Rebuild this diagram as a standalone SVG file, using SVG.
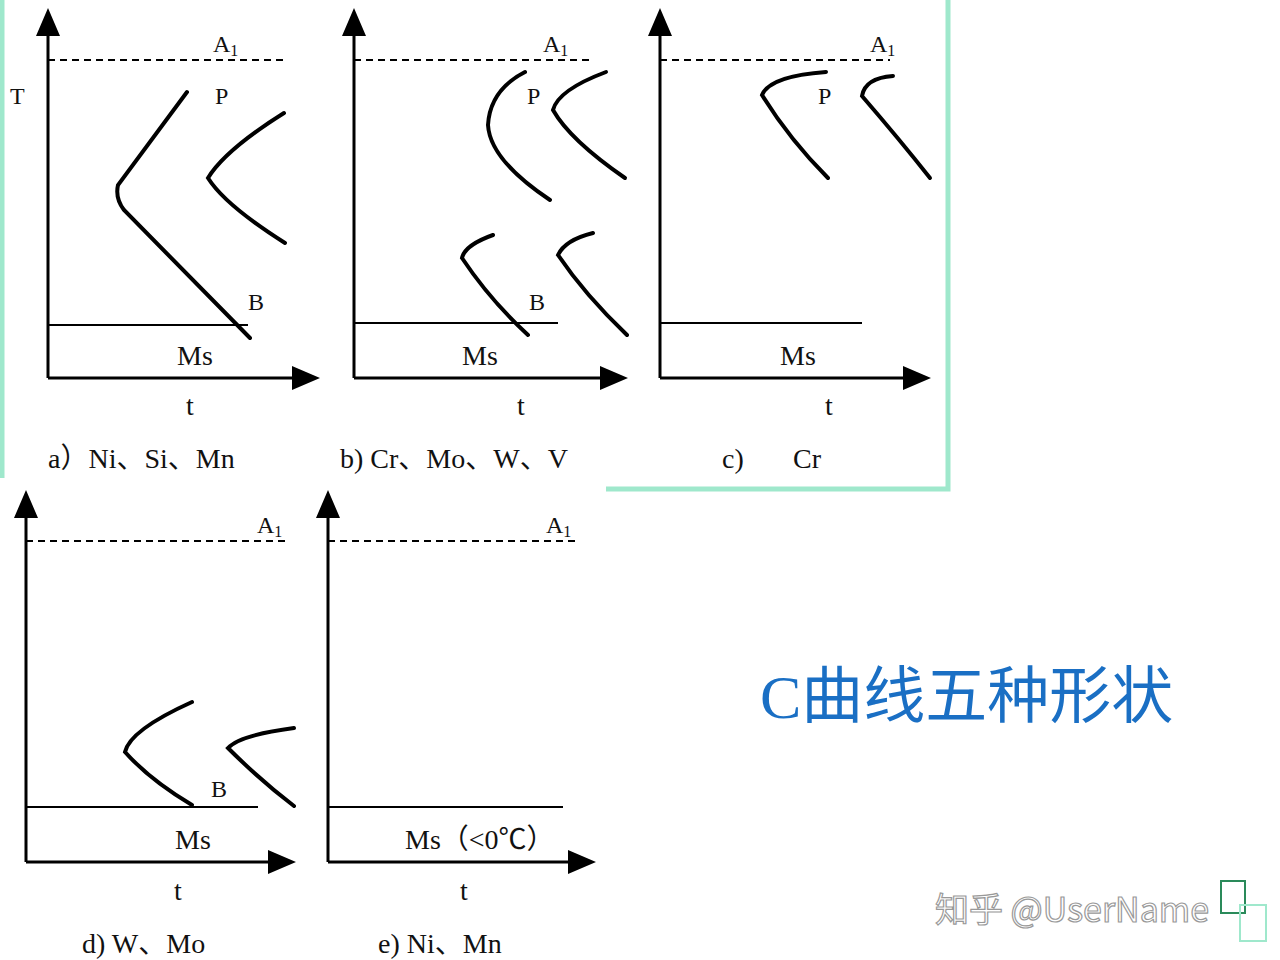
<svg xmlns="http://www.w3.org/2000/svg" width="1280" height="960" viewBox="0 0 1280 960">
<style>
.ax{stroke:#000;stroke-width:3;fill:none}
.cv{stroke:#000;stroke-width:4;fill:none;stroke-linecap:round}
.ms{stroke:#000;stroke-width:2;fill:none}
.da{stroke:#000;stroke-width:2;stroke-dasharray:7 5;fill:none}
.t{font-family:"Liberation Serif","Noto Sans CJK SC",serif;font-size:28px;fill:#111}
.a{font-family:"Liberation Serif",serif;font-size:24px;fill:#111}
.sub{font-size:16px}
</style>
<rect width="1280" height="960" fill="#fff"/>
<path d="M2,0V478M606,489H948V0" stroke="#9fe8cc" stroke-width="5" fill="none"/>
<g id="panel-a">
<path class="ax" d="M48,378V30M48,378H295"/>
<path d="M36,36L48,8L60,36z M292,366L320,378L292,390z" fill="#000"/>
<path class="da" d="M48,60H288"/>
<text class="a" x="213" y="52">A<tspan class="sub" dy="4">1</tspan></text>
<text class="a" x="10" y="104">T</text>
<text class="a" x="215" y="104">P</text>
<path class="cv" d="M187,92L118,185Q115,198 124,210L250,338"/>
<path class="cv" d="M284,113Q225,150 208,178Q225,205 285,243"/>
<path class="ms" d="M48,325H248"/>
<text class="a" x="248" y="310">B</text>
<text class="t" x="177" y="365">Ms</text>
<text class="t" x="186" y="415">t</text>
<text class="t" x="48" y="468">a）Ni、Si、Mn</text>
</g>
<g id="panel-b">
<path class="ax" d="M354,378V30M354,378H600"/>
<path d="M342,36L354,8L366,36z M600,366L628,378L600,390z" fill="#000"/>
<path class="da" d="M354,60H592"/>
<text class="a" x="543" y="52">A<tspan class="sub" dy="4">1</tspan></text>
<text class="a" x="527" y="104">P</text>
<path class="cv" d="M525,72Q490,90 488,125Q490,160 550,200"/>
<path class="cv" d="M606,72Q558,90 553,110Q570,140 625,178"/>
<path class="cv" d="M493,235Q465,245 462,258Q490,300 528,335"/>
<path class="cv" d="M593,233Q565,240 558,255Q585,295 627,335"/>
<path class="ms" d="M354,323H558"/>
<text class="a" x="529" y="310">B</text>
<text class="t" x="462" y="365">Ms</text>
<text class="t" x="517" y="415">t</text>
<text class="t" x="340" y="468">b) Cr、Mo、W、V</text>
</g>
<g id="panel-c">
<path class="ax" d="M660,378V30M660,378H905"/>
<path d="M648,36L660,8L672,36z M903,366L931,378L903,390z" fill="#000"/>
<path class="da" d="M660,60H890"/>
<text class="a" x="870" y="52">A<tspan class="sub" dy="4">1</tspan></text>
<text class="a" x="818" y="104">P</text>
<path class="cv" d="M826,72Q770,76 762,95Q790,140 828,178"/>
<path class="cv" d="M893,76Q865,78 862,96Q900,140 930,178"/>
<path class="ms" d="M660,323H862"/>
<text class="t" x="780" y="365">Ms</text>
<text class="t" x="825" y="415">t</text>
<text class="t" x="722" y="468">c)</text>
<text class="t" x="793" y="468">Cr</text>
</g>
<g id="panel-d">
<path class="ax" d="M26,862V515M26,862H270"/>
<path d="M14,518L26,490L38,518z M268,850L296,862L268,874z" fill="#000"/>
<path class="da" d="M26,541H290"/>
<text class="a" x="257" y="533">A<tspan class="sub" dy="4">1</tspan></text>
<path class="cv" d="M192,702Q130,730 125,752Q150,780 192,805"/>
<text class="a" x="211" y="797">B</text>
<path class="cv" d="M294,728Q240,735 228,748Q260,780 294,806"/>
<path class="ms" d="M26,807H258"/>
<text class="t" x="175" y="849">Ms</text>
<text class="t" x="174" y="900">t</text>
<text class="t" x="82" y="953">d) W、Mo</text>
</g>
<g id="panel-e">
<path class="ax" d="M328,862V515M328,862H570"/>
<path d="M316,518L328,490L340,518z M568,850L596,862L568,874z" fill="#000"/>
<path class="da" d="M328,541H575"/>
<text class="a" x="546" y="533">A<tspan class="sub" dy="4">1</tspan></text>
<path class="ms" d="M328,807H563"/>
<text class="t" x="405" y="849">Ms（&lt;0℃）</text>
<text class="t" x="460" y="900">t</text>
<text class="t" x="378" y="953">e) Ni、Mn</text>
</g>
<text x="760" y="718" font-family="Liberation Serif,Noto Sans CJK SC,serif" font-size="62" fill="#1a6fc4">C曲线五种形状</text>
<text x="935" y="922" font-family="Noto Sans CJK SC,sans-serif" font-size="34" fill="#fff" stroke="#999" stroke-width="1.2">知乎 @UserName</text>
<rect x="1221" y="881" width="24" height="32" fill="none" stroke="#2a8a5a" stroke-width="2"/>
<rect x="1240" y="905" width="26" height="36" fill="none" stroke="#9fe8cc" stroke-width="2"/>
</svg>
